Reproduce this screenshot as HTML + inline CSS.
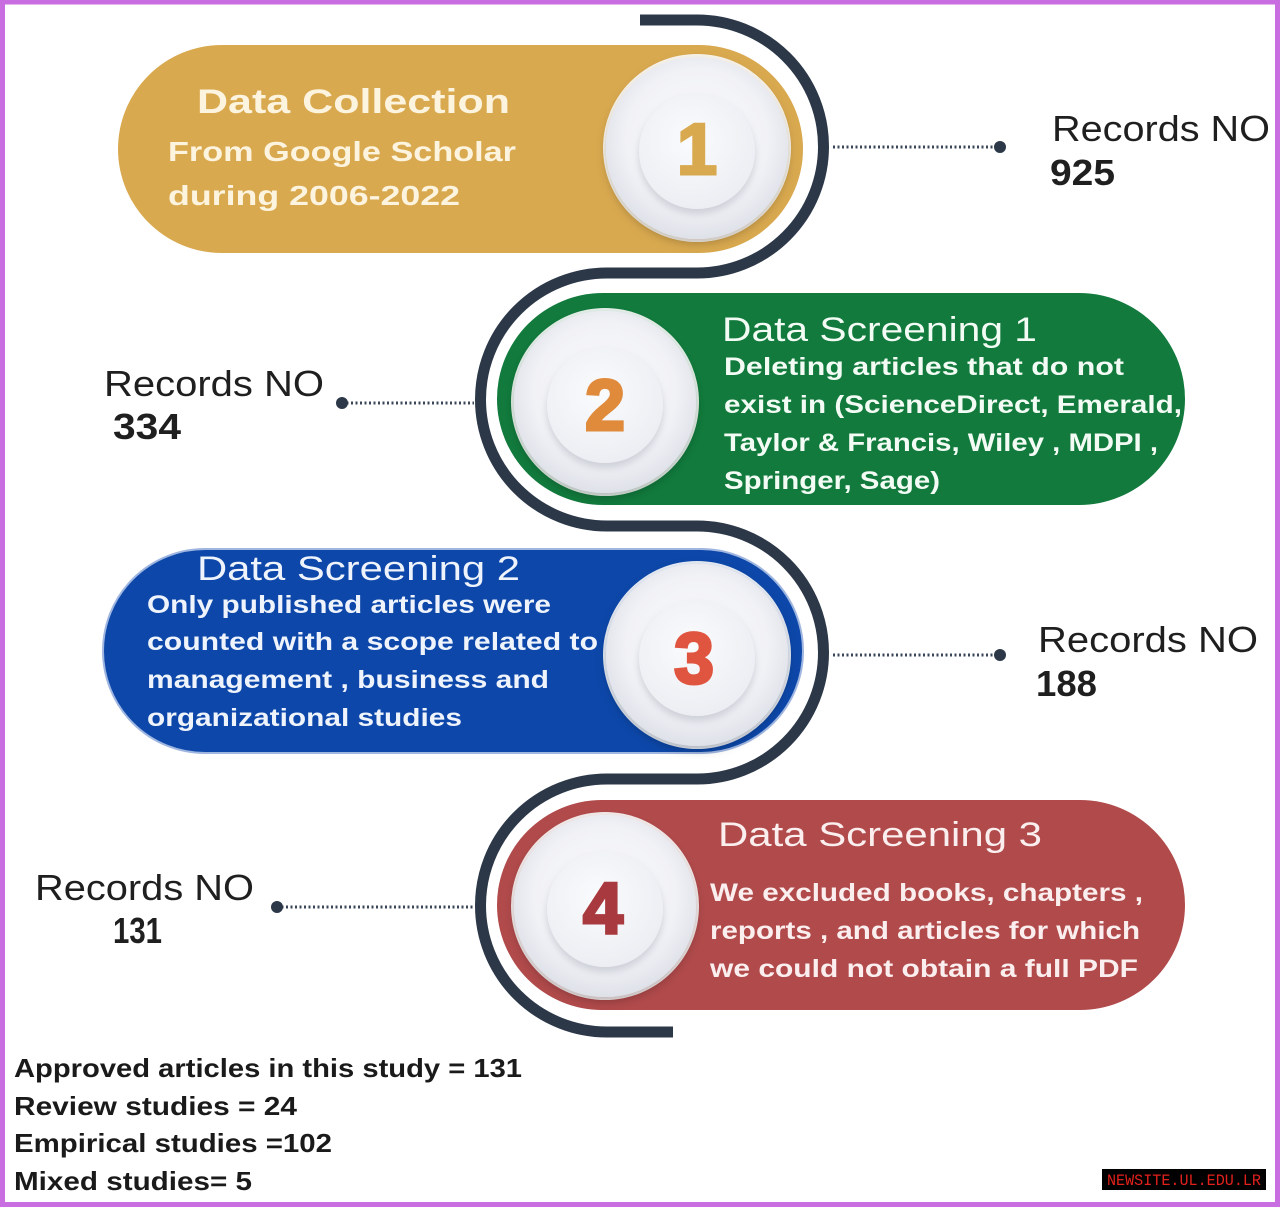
<!DOCTYPE html>
<html>
<head>
<meta charset="utf-8">
<style>
  html, body { margin: 0; padding: 0; background: #ffffff; }
  svg { display: block; }
  text { font-family: "Liberation Sans", "DejaVu Sans", sans-serif; }
</style>
</head>
<body>
<svg width="1280" height="1207" viewBox="0 0 1280 1207" xmlns="http://www.w3.org/2000/svg">
  <defs>
    <radialGradient id="outerG" cx="50%" cy="45%" r="55%">
      <stop offset="0%" stop-color="#fbfbfd"/>
      <stop offset="70%" stop-color="#f1f2f6"/>
      <stop offset="100%" stop-color="#dfe1e9"/>
    </radialGradient>
    <radialGradient id="innerG" cx="45%" cy="40%" r="60%">
      <stop offset="0%" stop-color="#fafbfd"/>
      <stop offset="100%" stop-color="#eceef3"/>
    </radialGradient>
    <filter id="sh" x="-30%" y="-30%" width="160%" height="160%">
      <feDropShadow dx="0" dy="4" stdDeviation="5" flood-color="#000" flood-opacity="0.25"/>
    </filter>
    <filter id="sh2" x="-30%" y="-30%" width="160%" height="160%">
      <feDropShadow dx="0" dy="5" stdDeviation="4" flood-color="#8a8fa0" flood-opacity="0.35"/>
    </filter>
  </defs>

  <!-- background & purple border -->
  <rect x="0" y="0" width="1280" height="1207" fill="#ffffff"/>
  <rect x="2.5" y="2" width="1275" height="1202.5" fill="none" stroke="#c96ee0" stroke-width="5"/>

  <!-- serpentine line -->
  <path d="M 640 20 L 697 20 A 126.5 126.5 0 0 1 697 273 L 607 273 A 126.5 126.5 0 0 0 607 526 L 697 526 A 126.5 126.5 0 0 1 697 779 L 607 779 A 126.5 126.5 0 0 0 607 1032 L 673 1032"
        fill="none" stroke="#2c3848" stroke-width="11"/>

  <!-- pills -->
  <rect x="118" y="45" width="685" height="208" rx="104" fill="#d9a94f"/>
  <rect x="497" y="293" width="688" height="212" rx="106" fill="#117a3c"/>
  <rect x="103" y="549" width="700" height="204" rx="102" fill="#0c47a9" stroke="#9fb6e0" stroke-width="2"/>
  <rect x="497" y="800" width="688" height="210" rx="105" fill="#b14a4b"/>

  <!-- circles -->
  <g>
    <circle cx="697" cy="148" r="94" fill="#ffffff" opacity="0.9"/>
    <circle cx="697" cy="148" r="91" fill="url(#outerG)" filter="url(#sh)"/>
    <circle cx="697" cy="151" r="58" fill="url(#innerG)" filter="url(#sh2)"/>
    <text x="697" y="174" font-size="72" font-weight="bold" fill="#d9a94f" stroke="#d9a94f" stroke-width="3" text-anchor="middle">1</text>
  </g>
  <g>
    <circle cx="605" cy="402" r="94" fill="#ffffff" opacity="0.9"/>
    <circle cx="605" cy="402" r="91" fill="url(#outerG)" filter="url(#sh)"/>
    <circle cx="605" cy="405" r="58" fill="url(#innerG)" filter="url(#sh2)"/>
    <text x="605" y="430" font-size="72" font-weight="bold" fill="#e08a3b" stroke="#e08a3b" stroke-width="3" text-anchor="middle">2</text>
  </g>
  <g>
    <circle cx="697" cy="655" r="94" fill="#ffffff" opacity="0.9"/>
    <circle cx="697" cy="655" r="91" fill="url(#outerG)" filter="url(#sh)"/>
    <circle cx="697" cy="658" r="58" fill="url(#innerG)" filter="url(#sh2)"/>
    <text x="694" y="683" font-size="72" font-weight="bold" fill="#e0553f" stroke="#e0553f" stroke-width="3" text-anchor="middle">3</text>
  </g>
  <g>
    <circle cx="605" cy="906" r="94" fill="#ffffff" opacity="0.9"/>
    <circle cx="605" cy="906" r="91" fill="url(#outerG)" filter="url(#sh)"/>
    <circle cx="605" cy="909" r="58" fill="url(#innerG)" filter="url(#sh2)"/>
    <text x="603" y="933" font-size="72" font-weight="bold" fill="#a8393e" stroke="#a8393e" stroke-width="3" text-anchor="middle">4</text>
  </g>

  <!-- pill 1 text -->
  <text x="197" y="113" font-size="34" font-weight="bold" fill="#fdf4df" textLength="313" lengthAdjust="spacingAndGlyphs">Data Collection</text>
  <text x="168" y="161" font-size="28" font-weight="bold" fill="#fdf4df" textLength="348" lengthAdjust="spacingAndGlyphs">From Google Scholar</text>
  <text x="168" y="205" font-size="28" font-weight="bold" fill="#fdf4df" textLength="292" lengthAdjust="spacingAndGlyphs">during 2006-2022</text>

  <!-- pill 2 text -->
  <text x="722" y="341" font-size="34" fill="#f2fbf4" textLength="315" lengthAdjust="spacingAndGlyphs">Data Screening 1</text>
  <text x="724" y="375" font-size="25" font-weight="bold" fill="#f2fbf4" textLength="400" lengthAdjust="spacingAndGlyphs">Deleting articles that do not</text>
  <text x="724" y="413" font-size="25" font-weight="bold" fill="#f2fbf4" textLength="458" lengthAdjust="spacingAndGlyphs">exist in (ScienceDirect, Emerald,</text>
  <text x="724" y="451" font-size="25" font-weight="bold" fill="#f2fbf4" textLength="434" lengthAdjust="spacingAndGlyphs">Taylor &amp; Francis, Wiley , MDPI ,</text>
  <text x="724" y="489" font-size="25" font-weight="bold" fill="#f2fbf4" textLength="216" lengthAdjust="spacingAndGlyphs">Springer, Sage)</text>

  <!-- pill 3 text -->
  <text x="197" y="580" font-size="34" fill="#eef3fc" textLength="323" lengthAdjust="spacingAndGlyphs">Data Screening 2</text>
  <text x="147" y="613" font-size="25" font-weight="bold" fill="#eef3fc" textLength="404" lengthAdjust="spacingAndGlyphs">Only published articles were</text>
  <text x="147" y="650" font-size="25" font-weight="bold" fill="#eef3fc" textLength="451" lengthAdjust="spacingAndGlyphs">counted with a scope related to</text>
  <text x="147" y="688" font-size="25" font-weight="bold" fill="#eef3fc" textLength="402" lengthAdjust="spacingAndGlyphs">management , business and</text>
  <text x="147" y="726" font-size="25" font-weight="bold" fill="#eef3fc" textLength="315" lengthAdjust="spacingAndGlyphs">organizational studies</text>

  <!-- pill 4 text -->
  <text x="718" y="846" font-size="34" fill="#fbeeee" textLength="324" lengthAdjust="spacingAndGlyphs">Data Screening 3</text>
  <text x="710" y="901" font-size="25" font-weight="bold" fill="#fbeeee" textLength="433" lengthAdjust="spacingAndGlyphs">We excluded books, chapters ,</text>
  <text x="710" y="939" font-size="25" font-weight="bold" fill="#fbeeee" textLength="430" lengthAdjust="spacingAndGlyphs">reports , and articles for which</text>
  <text x="710" y="977" font-size="25" font-weight="bold" fill="#fbeeee" textLength="428" lengthAdjust="spacingAndGlyphs">we could not obtain a full PDF</text>

  <!-- dotted connectors -->
  <g stroke="#3a4658" stroke-width="3" stroke-dasharray="2 2.5" fill="none">
    <line x1="833" y1="147" x2="1000" y2="147"/>
    <line x1="342" y1="403" x2="474" y2="403"/>
    <line x1="833" y1="655" x2="1000" y2="655"/>
    <line x1="277" y1="907" x2="474" y2="907"/>
  </g>
  <g fill="#2c3848">
    <circle cx="1000" cy="147" r="6"/>
    <circle cx="342" cy="403" r="6"/>
    <circle cx="1000" cy="655" r="6"/>
    <circle cx="277" cy="907" r="6"/>
  </g>

  <!-- records labels -->
  <g fill="#1f1f1f" font-size="36">
    <text x="1052" y="141" textLength="218" lengthAdjust="spacingAndGlyphs">Records NO</text>
    <text x="1050" y="185" font-weight="bold" textLength="65" lengthAdjust="spacingAndGlyphs">925</text>
    <text x="104" y="396" textLength="220" lengthAdjust="spacingAndGlyphs">Records NO</text>
    <text x="113" y="439" font-weight="bold" textLength="68" lengthAdjust="spacingAndGlyphs">334</text>
    <text x="1038" y="652" textLength="220" lengthAdjust="spacingAndGlyphs">Records NO</text>
    <text x="1036" y="696" font-weight="bold" textLength="61" lengthAdjust="spacingAndGlyphs">188</text>
    <text x="35" y="900" textLength="219" lengthAdjust="spacingAndGlyphs">Records NO</text>
    <text x="113" y="943" font-weight="bold" textLength="49" lengthAdjust="spacingAndGlyphs">131</text>
  </g>

  <!-- summary text -->
  <g fill="#1a1a1a" font-size="26" font-weight="bold">
    <text x="14" y="1077" textLength="508" lengthAdjust="spacingAndGlyphs">Approved articles in this study = 131</text>
    <text x="14" y="1115" textLength="283" lengthAdjust="spacingAndGlyphs">Review studies = 24</text>
    <text x="14" y="1152" textLength="318" lengthAdjust="spacingAndGlyphs">Empirical studies =102</text>
    <text x="14" y="1190" textLength="238" lengthAdjust="spacingAndGlyphs">Mixed studies= 5</text>
  </g>

  <!-- watermark -->
  <rect x="1102" y="1169" width="164" height="21" fill="#000000"/>
  <text x="1107" y="1185" font-size="16" fill="#e3211c" textLength="154" lengthAdjust="spacingAndGlyphs" style="font-family:'Liberation Mono', monospace;">NEWSITE.UL.EDU.LR</text>
</svg>
</body>
</html>
